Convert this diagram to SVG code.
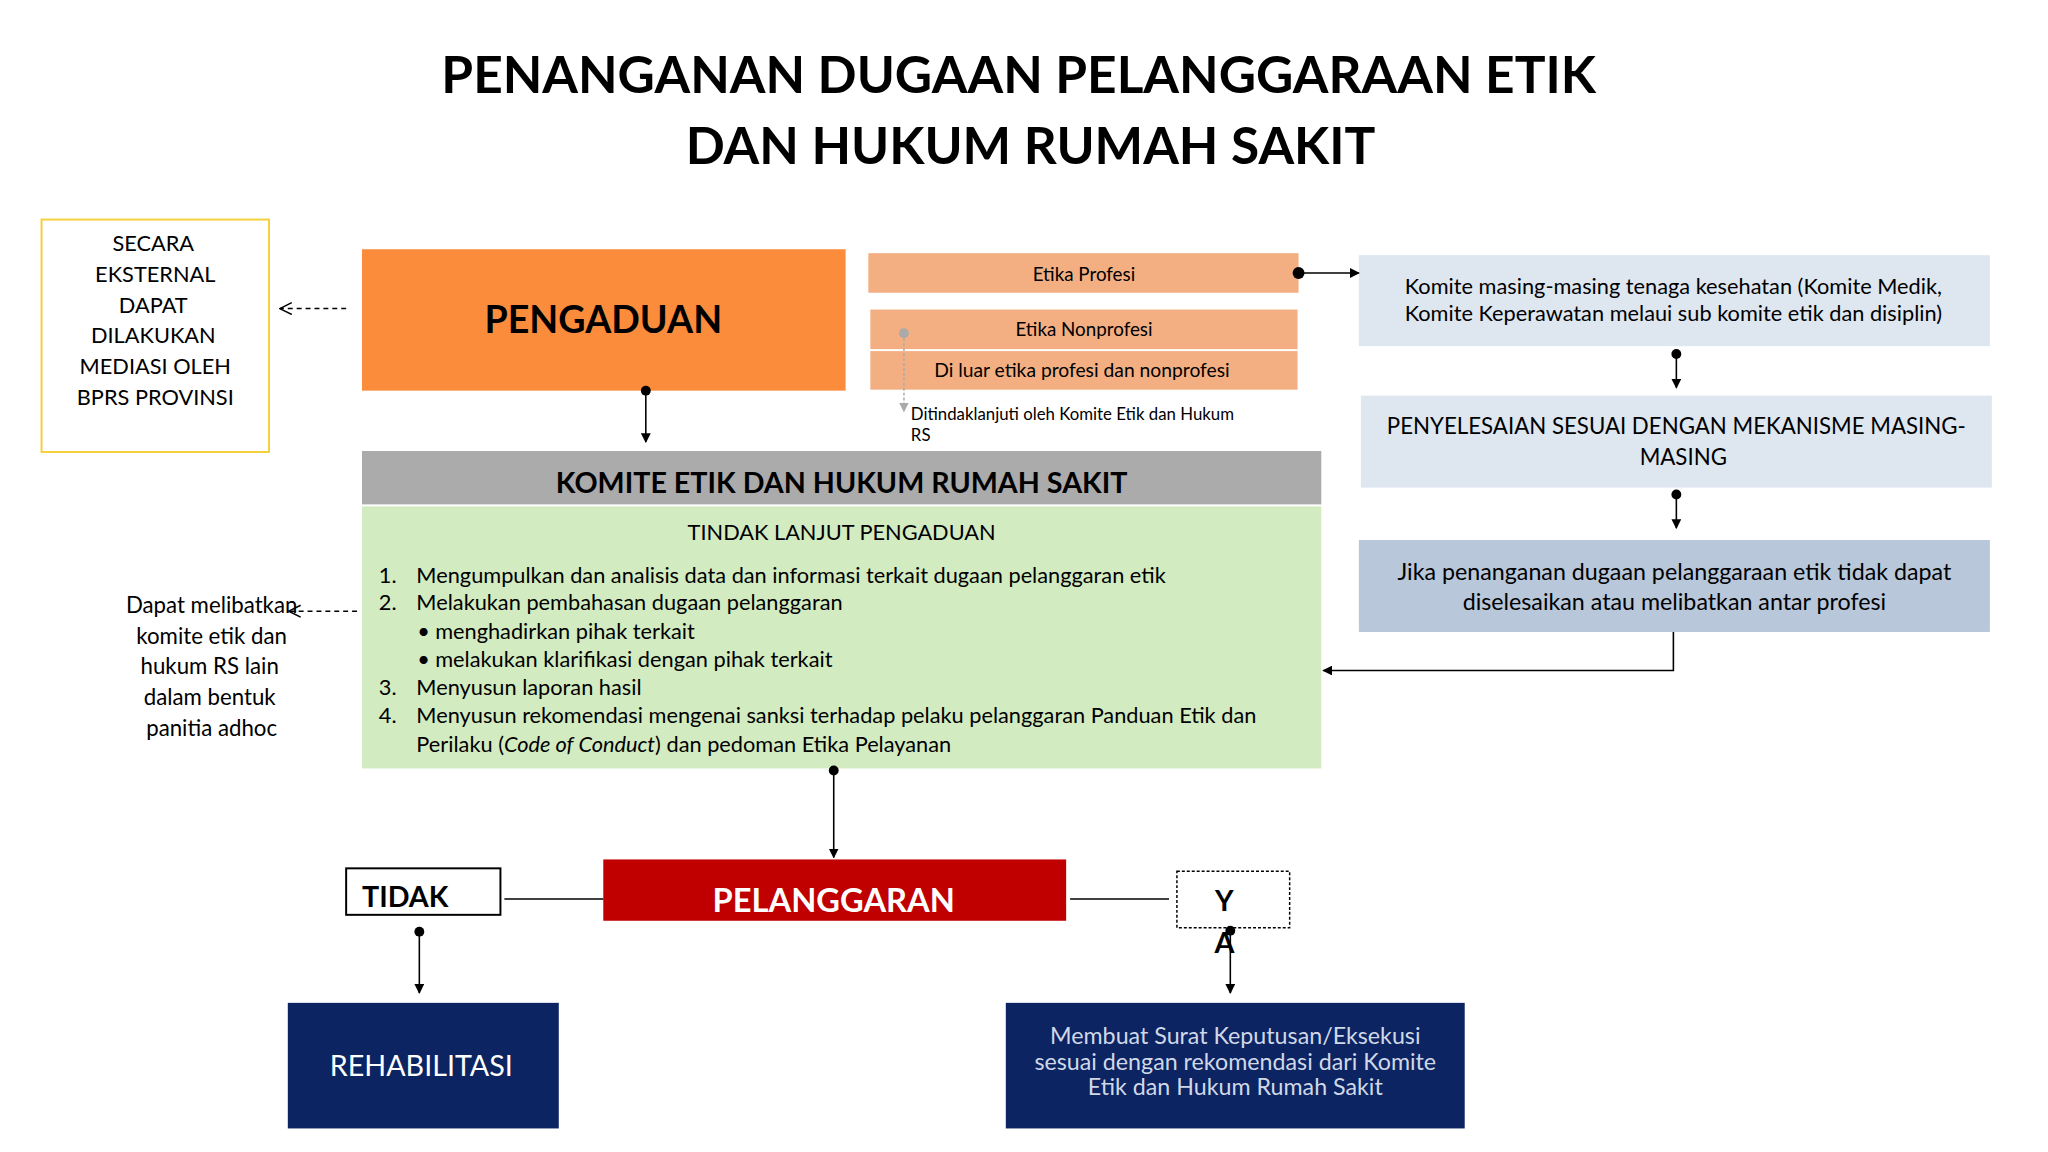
<svg xmlns="http://www.w3.org/2000/svg" width="2048" height="1152" viewBox="0 0 2048 1152">
<style>
text{font-family:Lato,"Liberation Sans",sans-serif;fill:#000}
.c{text-anchor:middle}
.b{font-weight:bold}
.ln{stroke:#000;stroke-width:1.6;fill:none}
</style>
<defs>
<marker id="ah" markerWidth="10" markerHeight="10" refX="9" refY="5" orient="auto" markerUnits="userSpaceOnUse"><path d="M0,0L10,5L0,10z" fill="#000"/></marker>
<marker id="ag" markerWidth="10" markerHeight="10" refX="9" refY="5" orient="auto" markerUnits="userSpaceOnUse"><path d="M0,0L10,5L0,10z" fill="#aaa"/></marker>
<marker id="ao" markerWidth="14" markerHeight="14" refX="13" refY="7" orient="auto" markerUnits="userSpaceOnUse"><path d="M1,1L13,7L1,13" fill="none" stroke="#000" stroke-width="1.5"/></marker>
</defs>
<rect width="2048" height="1152" fill="#fff"/>
<g transform="scale(0.989)">
<g id="title">
<text class="c b" x="1030" y="94" font-size="52">PENANGANAN DUGAAN PELANGGARAAN ETIK</text>
<text class="c b" x="1042" y="166" font-size="52">DAN HUKUM RUMAH SAKIT</text>
</g>
<g id="eksternal">
<rect x="42" y="222" width="230" height="235" fill="#fff" stroke="#F5D03C" stroke-width="2"/>
<g font-size="22">
<text class="c" x="155" y="254">SECARA</text>
<text class="c" x="157" y="285">EKSTERNAL</text>
<text class="c" x="155" y="316">DAPAT</text>
<text class="c" x="155" y="347">DILAKUKAN</text>
<text class="c" x="157" y="378">MEDIASI OLEH</text>
<text class="c" x="157" y="409">BPRS PROVINSI</text>
</g>
</g>
<g id="pengaduan">
<rect x="366" y="252" width="489" height="143" fill="#FB8C3C"/>
<text class="c b" x="610" y="337" font-size="38">PENGADUAN</text>
</g>
<g id="etika-profesi">
<rect x="878" y="256" width="435" height="40" fill="#F3AF82"/>
<text class="c" x="1096" y="284" font-size="19">Etika Profesi</text>
</g>
<g id="etika-nonprofesi">
<rect x="880" y="313" width="432" height="40" fill="#F3AF82"/>
<text class="c" x="1096" y="340" font-size="19">Etika Nonprofesi</text>
</g>
<g id="di-luar">
<rect x="880" y="355" width="432" height="39" fill="#F3AF82"/>
<text class="c" x="1094" y="381" font-size="19.5">Di luar etika profesi dan nonprofesi</text>
</g>
<g id="ditindaklanjuti">
<text x="921" y="425" font-size="17">Ditindaklanjuti oleh Komite Etik dan Hukum</text>
<text x="921" y="446" font-size="17">RS</text>
</g>
<g id="komite-masing">
<rect x="1374" y="258" width="638" height="92" fill="#DEE6F0"/>
<text class="c" x="1692" y="297" font-size="22">Komite masing-masing tenaga kesehatan (Komite Medik,</text>
<text class="c" x="1692" y="325" font-size="22">Komite Keperawatan melaui sub komite etik dan disiplin)</text>
</g>
<g id="penyelesaian">
<rect x="1376" y="400" width="638" height="93" fill="#DEE6F0"/>
<text class="c" x="1695" y="439" font-size="22.5">PENYELESAIAN SESUAI DENGAN MEKANISME MASING-</text>
<text class="c" x="1702" y="470" font-size="22.5">MASING</text>
</g>
<g id="jika">
<rect x="1374" y="546" width="638" height="93" fill="#B8C7DA"/>
<text class="c" x="1693" y="586" font-size="23.5">Jika penanganan dugaan pelanggaraan etik tidak dapat</text>
<text class="c" x="1693" y="617" font-size="23.5">diselesaikan atau melibatkan antar profesi</text>
</g>
<g id="komite-etik">
<rect x="366" y="456" width="970" height="54" fill="#ABABAB"/>
<text class="c b" x="851" y="498" font-size="29">KOMITE ETIK DAN HUKUM RUMAH SAKIT</text>
<rect x="366" y="512" width="970" height="265" fill="#D3EBC1"/>
<g font-size="22">
<text class="c" x="851" y="546">TINDAK LANJUT PENGADUAN</text>
<text x="383" y="589">1.</text><text x="421" y="589">Mengumpulkan dan analisis data dan informasi terkait dugaan pelanggaran etik</text>
<text x="383" y="617">2.</text><text x="421" y="617">Melakukan pembahasan dugaan pelanggaran</text>
<text x="422" y="646">•</text><text x="440" y="646">menghadirkan pihak terkait</text>
<text x="422" y="674">•</text><text x="440" y="674">melakukan klarifikasi dengan pihak terkait</text>
<text x="383" y="703">3.</text><text x="421" y="703">Menyusun laporan hasil</text>
<text x="383" y="731">4.</text><text x="421" y="731">Menyusun rekomendasi mengenai sanksi terhadap pelaku pelanggaran Panduan Etik dan</text>
<text x="421" y="760">Perilaku (<tspan font-style="italic">Code of Conduct</tspan>) dan pedoman Etika Pelayanan</text>
</g>
</g>
<g id="dapat">
<g font-size="22.5">
<text class="c" x="214" y="620">Dapat melibatkan</text>
<text class="c" x="214" y="651">komite etik dan</text>
<text class="c" x="212" y="682">hukum RS lain</text>
<text class="c" x="212" y="713">dalam bentuk</text>
<text class="c" x="214" y="744">panitia adhoc</text>
</g>
</g>
<g id="pelanggaran">
<rect x="610" y="869" width="468" height="62" fill="#C00000"/>
<text class="c b" x="843" y="922" font-size="33" style="fill:#fff">PELANGGARAN</text>
</g>
<g id="tidak">
<rect x="350" y="878" width="156" height="47" fill="#fff" stroke="#000" stroke-width="2"/>
<text class="b" x="366" y="917" font-size="29">TIDAK</text>
</g>
<g id="ya">
<rect x="1190" y="881" width="114" height="57" fill="#fff" stroke="#000" stroke-width="1.5" stroke-dasharray="3,2"/>
<text class="c b" x="1238" y="921" font-size="29">Y</text>
<text class="c b" x="1238" y="964" font-size="29">A</text>
</g>
<g id="rehabilitasi">
<rect x="291" y="1014" width="274" height="127" fill="#0C2461"/>
<text class="c" x="426" y="1088" font-size="29" style="fill:#fff">REHABILITASI</text>
</g>
<g id="keputusan">
<rect x="1017" y="1014" width="464" height="127" fill="#0C2461"/>
<g font-size="23.5">
<text class="c" x="1249" y="1056" style="fill:#D0D8E8">Membuat Surat Keputusan/Eksekusi</text>
<text class="c" x="1249" y="1082" style="fill:#D0D8E8">sesuai dengan rekomendasi dari Komite</text>
<text class="c" x="1249" y="1107" style="fill:#D0D8E8">Etik dan Hukum Rumah Sakit</text>
</g>
</g>
<g id="connectors">
<line class="ln" x1="350" y1="312" x2="283" y2="312" stroke-dasharray="5,4" marker-end="url(#ao)"/>
<circle cx="653" cy="395" r="5"/>
<line class="ln" x1="653" y1="395" x2="653" y2="447" marker-end="url(#ah)"/>
<circle cx="1313" cy="276" r="6"/>
<line class="ln" x1="1313" y1="276" x2="1374" y2="276" marker-end="url(#ah)"/>
<circle cx="914" cy="337" r="5" fill="#aaa"/>
<line x1="914" y1="337" x2="914" y2="416" stroke="#aaa" stroke-width="1.5" stroke-dasharray="3,2" marker-end="url(#ag)"/>
<circle cx="1695" cy="358" r="5"/>
<line class="ln" x1="1695" y1="358" x2="1695" y2="392" marker-end="url(#ah)"/>
<circle cx="1695" cy="500" r="5"/>
<line class="ln" x1="1695" y1="500" x2="1695" y2="534" marker-end="url(#ah)"/>
<polyline class="ln" points="1692,639 1692,678 1338,678" marker-end="url(#ah)"/>
<line class="ln" x1="361" y1="618" x2="292" y2="618" stroke-dasharray="5,4" marker-end="url(#ao)"/>
<circle cx="843" cy="779" r="5"/>
<line class="ln" x1="843" y1="779" x2="843" y2="867" marker-end="url(#ah)"/>
<line class="ln" x1="510" y1="909" x2="610" y2="909"/>
<line class="ln" x1="1082" y1="909" x2="1182" y2="909"/>
<circle cx="424" cy="942" r="5"/>
<line class="ln" x1="424" y1="942" x2="424" y2="1004" marker-end="url(#ah)"/>
<circle cx="1244" cy="941" r="5"/>
<line class="ln" x1="1244" y1="941" x2="1244" y2="1004" marker-end="url(#ah)"/>
</g>
</g>
</svg>
